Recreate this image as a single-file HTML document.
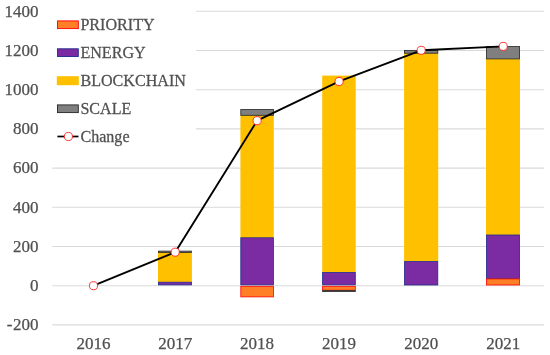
<!DOCTYPE html>
<html><head><meta charset="utf-8"><title>Chart</title>
<style>
html,body{margin:0;padding:0;background:#fff;}
svg{display:block;}
text{font-family:"Liberation Serif","Times New Roman",serif;font-size:16.1px;fill:#505050;stroke:#505050;stroke-width:0.25px;}
text.ax{font-size:17px;}
</style></head><body>
<svg width="550" height="355" viewBox="0 0 550 355">
<rect width="550" height="355" fill="#fff"/>
<g><line x1="52.3" x2="544" y1="324.90" y2="324.90" stroke="#dadada" stroke-width="1.1"/>
<line x1="52.3" x2="544" y1="285.70" y2="285.70" stroke="#dadada" stroke-width="1.1"/>
<line x1="52.3" x2="544" y1="246.50" y2="246.50" stroke="#dadada" stroke-width="1.1"/>
<line x1="52.3" x2="544" y1="207.30" y2="207.30" stroke="#dadada" stroke-width="1.1"/>
<line x1="52.3" x2="544" y1="168.10" y2="168.10" stroke="#dadada" stroke-width="1.1"/>
<line x1="52.3" x2="544" y1="128.90" y2="128.90" stroke="#dadada" stroke-width="1.1"/>
<line x1="52.3" x2="544" y1="89.70" y2="89.70" stroke="#dadada" stroke-width="1.1"/>
<line x1="52.3" x2="544" y1="50.50" y2="50.50" stroke="#dadada" stroke-width="1.1"/>
<line x1="52.3" x2="544" y1="11.30" y2="11.30" stroke="#dadada" stroke-width="1.1"/>
</g>
<g><rect x="52" y="5" width="144" height="150" fill="#fff"/>
<rect x="57.5" y="20.90" width="20.8" height="7.7" fill="#ff7f27" stroke="#ff0000" stroke-width="0.9"/>
<text transform="translate(80.4,29.90) scale(1,1.075)">PRIORITY</text>
<rect x="57.5" y="48.80" width="20.8" height="7.7" fill="#7b2ca3" stroke="#1f2a8a" stroke-width="0.9"/>
<text transform="translate(80.4,57.80) scale(1,1.075)">ENERGY</text>
<rect x="56.8" y="76.20" width="22" height="9" fill="#ffc000"/>
<text transform="translate(80.4,85.90) scale(1,1.075)">BLOCKCHAIN</text>
<rect x="57.5" y="104.90" width="20.8" height="7.7" fill="#7f7f7f" stroke="#262626" stroke-width="0.9"/>
<text transform="translate(80.4,113.90) scale(1,1.075)">SCALE</text>
<line x1="57.4" x2="78.5" y1="136.50" y2="136.50" stroke="#000" stroke-width="1.7"/>
<circle cx="68.4" cy="136.50" r="4.05" fill="#fff" stroke="#ff2020" stroke-width="0.9"/>
<text transform="translate(80.4,141.80) scale(1,1.075)">Change</text>
</g>
<g><rect x="158.00" y="252.00" width="33.90" height="30.00" fill="#ffc000"/>
<rect x="158.40" y="282.20" width="33.10" height="2.70" fill="#7b2ca3" stroke="#1f2a8a" stroke-width="0.8"/>
<rect x="158.40" y="251.10" width="33.10" height="1.30" fill="#7f7f7f" stroke="#262626" stroke-width="0.8"/>
<rect x="240.40" y="115.00" width="33.40" height="123.00" fill="#ffc000"/>
<rect x="240.80" y="237.80" width="32.60" height="47.10" fill="#7b2ca3" stroke="#1f2a8a" stroke-width="0.8"/>
<rect x="240.80" y="286.30" width="32.60" height="10.60" fill="#ff7f27" stroke="#ff0000" stroke-width="0.8"/>
<rect x="240.80" y="109.50" width="32.60" height="5.80" fill="#7f7f7f" stroke="#262626" stroke-width="0.8"/>
<rect x="322.20" y="75.60" width="33.50" height="196.90" fill="#ffc000"/>
<rect x="322.60" y="272.50" width="32.70" height="12.40" fill="#7b2ca3" stroke="#1f2a8a" stroke-width="0.8"/>
<rect x="322.60" y="286.30" width="32.70" height="3.90" fill="#ff7f27" stroke="#ff0000" stroke-width="0.8"/>
<rect x="322.60" y="290.60" width="32.70" height="1.00" fill="#7f7f7f" stroke="#262626" stroke-width="0.8"/>
<rect x="404.10" y="53.00" width="34.10" height="208.50" fill="#ffc000"/>
<rect x="404.50" y="261.60" width="33.30" height="23.40" fill="#7b2ca3" stroke="#1f2a8a" stroke-width="0.8"/>
<rect x="404.50" y="50.40" width="33.30" height="2.80" fill="#7f7f7f" stroke="#262626" stroke-width="0.8"/>
<rect x="486.00" y="59.00" width="34.00" height="176.00" fill="#ffc000"/>
<rect x="486.40" y="235.00" width="33.20" height="43.50" fill="#7b2ca3" stroke="#1f2a8a" stroke-width="0.8"/>
<rect x="486.40" y="278.90" width="33.20" height="6.10" fill="#ff7f27" stroke="#ff0000" stroke-width="0.8"/>
<rect x="486.40" y="46.50" width="33.20" height="12.40" fill="#7f7f7f" stroke="#262626" stroke-width="0.8"/>
</g>
<g><polyline points="93.5,285.70 175.2,252.18 257.1,120.67 339.1,81.47 421.2,50.30 503.2,46.38" fill="none" stroke="#000" stroke-width="1.9" stroke-linejoin="round" stroke-linecap="round"/>
<circle cx="93.5" cy="285.70" r="4.05" fill="#fff" stroke="#ff2020" stroke-width="0.9"/>
<circle cx="175.2" cy="252.18" r="4.05" fill="#fff" stroke="#ff2020" stroke-width="0.9"/>
<circle cx="257.1" cy="120.67" r="4.05" fill="#fff" stroke="#ff2020" stroke-width="0.9"/>
<circle cx="339.1" cy="81.47" r="4.05" fill="#fff" stroke="#ff2020" stroke-width="0.9"/>
<circle cx="421.2" cy="50.30" r="4.05" fill="#fff" stroke="#ff2020" stroke-width="0.9"/>
<circle cx="503.2" cy="46.38" r="4.05" fill="#fff" stroke="#ff2020" stroke-width="0.9"/>
</g>
<g><text class="ax" x="38.6" y="330.10" text-anchor="end">-<tspan dx="0.8">200</tspan></text>
<text class="ax" x="38.6" y="290.90" text-anchor="end">0</text>
<text class="ax" x="38.6" y="251.70" text-anchor="end">200</text>
<text class="ax" x="38.6" y="212.50" text-anchor="end">400</text>
<text class="ax" x="38.6" y="173.30" text-anchor="end">600</text>
<text class="ax" x="38.6" y="134.10" text-anchor="end">800</text>
<text class="ax" x="38.6" y="94.90" text-anchor="end">1000</text>
<text class="ax" x="38.6" y="55.70" text-anchor="end">1200</text>
<text class="ax" x="38.6" y="16.50" text-anchor="end">1400</text>
</g>
<g><text class="ax" x="93.5" y="349.4" text-anchor="middle">2016</text>
<text class="ax" x="175.2" y="349.4" text-anchor="middle">2017</text>
<text class="ax" x="257.1" y="349.4" text-anchor="middle">2018</text>
<text class="ax" x="339.1" y="349.4" text-anchor="middle">2019</text>
<text class="ax" x="421.2" y="349.4" text-anchor="middle">2020</text>
<text class="ax" x="503.2" y="349.4" text-anchor="middle">2021</text>
</g>
</svg>
</body></html>
